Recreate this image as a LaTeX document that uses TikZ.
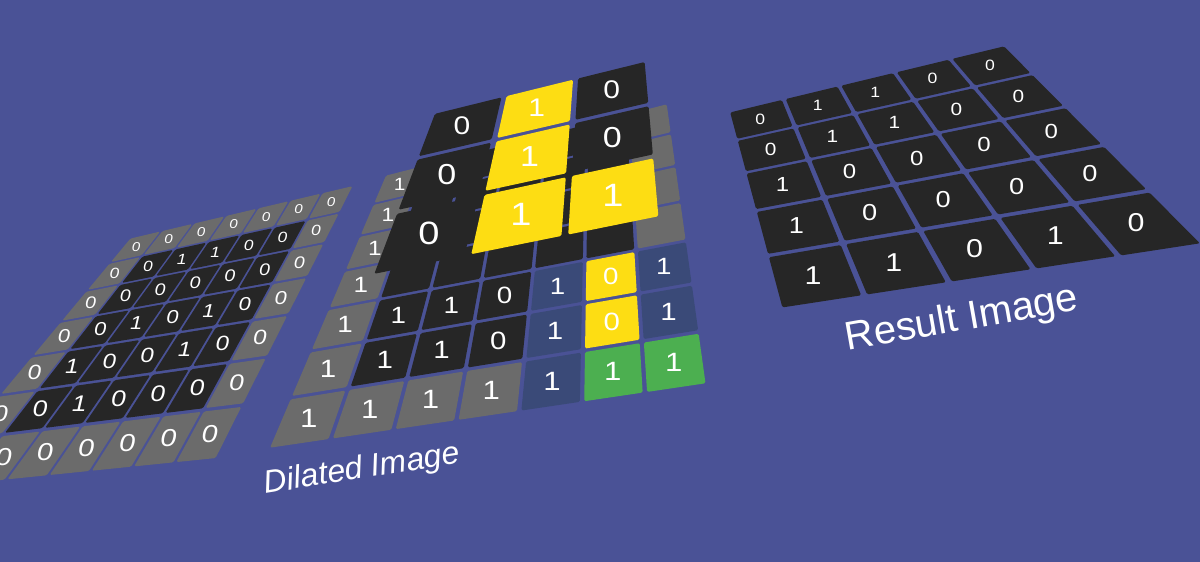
\documentclass[tikz,border=0pt]{standalone}
\usepackage{fontspec}
\setmainfont{Liberation Sans}
\usetikzlibrary{calc}
\definecolor{bgc}{RGB}{74,82,150}
\definecolor{cd}{RGB}{38,38,38}
\definecolor{cg}{RGB}{107,107,107}
\definecolor{cy}{RGB}{253,221,19}
\definecolor{cb}{RGB}{58,74,120}
\definecolor{cgr}{RGB}{76,175,80}
\newcounter{cellno}
\newcommand\setgrid[7]{\coordinate (gTL) at #1; \coordinate (gTR) at #2;
  \coordinate (gBR) at #3; \coordinate (gBL) at #4;
  \def\gnc{#5}\def\gnr{#6}\def\gk{#7}}
\newcommand\gpt[3]{\pgfmathsetmacro\vv{(#3)/(\gk-(\gk-1)*(#3))}%
  \coordinate (#1) at ($($(gTL)!#2!(gTR)$)!\vv!($(gBL)!#2!(gBR)$)$);}
% col,row,fill,text,fontsize min,fontsize max,shape
\newcommand\cell[7]{%
  \stepcounter{cellno}%
  \pgfmathsetmacro\ua{(#1-1+0.035)/\gnc}\pgfmathsetmacro\ub{(#1-0.035)/\gnc}%
  \pgfmathsetmacro\va{(#2-1+0.035)/\gnr}\pgfmathsetmacro\vb{(#2-0.035)/\gnr}%
  \pgfmathsetmacro\uc{(#1-0.5)/\gnc}\pgfmathsetmacro\vc{(#2-0.5)/\gnr}%
  \pgfmathsetmacro\fsz{#5+(#6-#5)*\vc}%
  \gpt{p1}{\ua}{\va}\gpt{p2}{\ub}{\va}\gpt{p3}{\ub}{\vb}\gpt{p4}{\ua}{\vb}\gpt{pc}{\uc}{\vc}%
  \fill[fill=c#3,rounded corners=1.5pt] (p1)--(p2)--(p3)--(p4)--cycle;
  \node[digit,font=\fontsize{\fsz}{\fsz}\selectfont#7] (n\thecellno) at (pc) {#4};}
\tikzset{digit/.style={text=white,inner sep=0pt,yscale=0.85},
  label/.style={text=white,inner sep=0pt}}
\begin{document}
\begin{tikzpicture}[x=1pt,y=-1pt]
\useasboundingbox (0,0) rectangle (1200,562);
\clip (0,0) rectangle (1200,562);
\fill[bgc] (0,0) rectangle (1200,562);
% ---- input (padded) image
\setgrid{(130,238)}{(354,185)}{(216,460)}{(-80,490)}{7}{7}{1.5}
\foreach \rw/\lst in {1/{g/0,g/0,g/0,g/0,g/0,g/0,g/0},
  2/{g/0,d/0,d/1,d/1,d/0,d/0,g/0},
  3/{g/0,d/0,d/0,d/0,d/0,d/0,g/0},
  4/{g/0,d/0,d/1,d/0,d/1,d/0,g/0},
  5/{g/0,d/1,d/0,d/0,d/1,d/0,g/0},
  6/{g/0,d/0,d/1,d/0,d/0,d/0,g/0},
  7/{g/0,g/0,g/0,g/0,g/0,g/0,g/0}}
  {\foreach \f/\t [count=\c] in \lst {\cell{\c}{\rw}{\f}{\t}{14}{30}{\itshape}}}
% ---- dilated image base
\setgrid{(385,175)}{(668,103)}{(708,385)}{(267,450)}{7}{7}{1.4}
\foreach \rw/\lst in {1/{g/1,d/{},d/{},d/{},d/{},d/{},g/{}},
  2/{g/1,d/{},d/{},d/{},d/{},d/{},g/{}},
  3/{g/1,d/{},d/{},d/{},d/{},d/{},g/{}},
  4/{g/1,d/{},d/{},d/{},d/{},d/{},g/{}},
  5/{g/1,d/1,d/1,d/0,b/1,y/0,b/1},
  6/{g/1,d/1,d/1,d/0,b/1,y/0,b/1},
  7/{g/1,g/1,g/1,g/1,b/1,gr/1,gr/1}}
  {\foreach \f/\t [count=\c] in \lst {\cell{\c}{\rw}{\f}{\t}{20}{32}{}}}
% ---- raised kernel window
\setgrid{(433,113)}{(647,60)}{(662,218)}{(370,277)}{3}{3}{1.3}
\foreach \rw/\lst in {1/{d/0,y/1,d/0},2/{d/0,y/1,d/0},3/{d/0,y/1,y/1}}
  {\foreach \f/\t [count=\c] in \lst {\cell{\c}{\rw}{\f}{\t}{28}{40}{}}}
% ---- result image
\setgrid{(728,112)}{(1005,45)}{(1205,245)}{(780,310)}{5}{5}{1.5}
\foreach \rw/\lst in {1/{d/0,d/1,d/1,d/0,d/0},2/{d/0,d/1,d/1,d/0,d/0},
  3/{d/1,d/0,d/0,d/0,d/0},4/{d/1,d/0,d/0,d/0,d/0},5/{d/1,d/1,d/0,d/1,d/0}}
  {\foreach \f/\t [count=\c] in \lst {\cell{\c}{\rw}{\f}{\t}{16}{32}{}}}
% ---- labels
\node[label,rotate=9,font=\fontsize{32}{32}\selectfont\itshape] (dil) at (362,470) {Dilated Image};
\node[label,rotate=10,font=\fontsize{40}{40}\selectfont] (res) at (962,320) {Result Image};
\end{tikzpicture}
\end{document}
